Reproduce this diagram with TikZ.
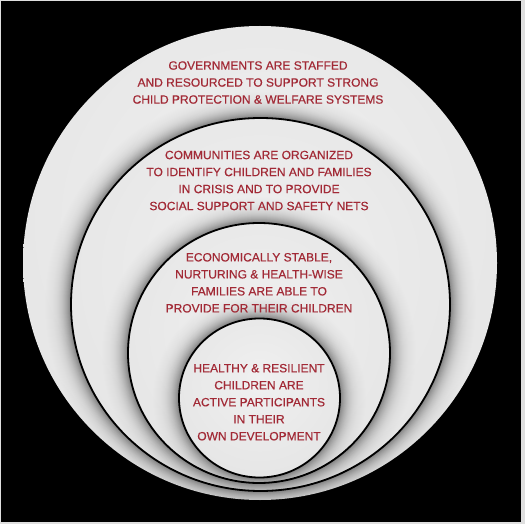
\documentclass[tikz,border=0pt]{standalone}
\usepackage{fontspec}
\setmainfont[FakeBold=0.6]{Liberation Sans}
\definecolor{txtred}{RGB}{162,42,54}
\definecolor{diskC}{RGB}{240,240,240}
\definecolor{diskM}{RGB}{230,230,230}
\definecolor{diskE}{RGB}{211,211,211}
\pgfdeclareradialshading{diskshade}{\pgfpoint{0bp}{6bp}}{color(0bp)=(diskC); color(28bp)=(diskM); color(50bp)=(diskE); color(75bp)=(diskE)}
\tikzset{
  txt/.style={font=\fontsize{12}{17}\selectfont, text=txtred, align=center, inner sep=0pt},
  disk/.style={shading=diskshade},
  ring/.style={draw=black, line width=1.8pt}
}
\newcommand{\myshadow}[4]{% cx, cy, rx, ry
  \foreach \i in {30,...,1}{
    \pgfmathsetmacro{\rxx}{#3+\i}
    \pgfmathsetmacro{\ryy}{#4+\i}
    \pgfmathsetmacro{\op}{0.072*exp(-(\i-1)/7)}
    \fill[black, opacity=\op] (#1,#2) ellipse [x radius=\rxx, y radius=\ryy];
  }
}
\begin{document}
\begin{tikzpicture}[x=1pt,y=-1pt]
\useasboundingbox (0,0) rectangle (525,524);
\fill[gray!25] (0,0) rectangle (525,524);
\fill[black] (1,1) rectangle (521,521.5);
% outer disk
\shade[disk] (260,263) circle [radius=237];
% circle 2
\begin{scope}
  \clip (260,263) circle [radius=237];
  \myshadow{260.5}{304.5}{189.5}{186.5}
\end{scope}
\shade[disk] (260.5,304.5) ellipse [x radius=189.5, y radius=186.5];
\draw[ring] (260.5,304.5) ellipse [x radius=189.5, y radius=186.5];
% circle 3
\begin{scope}
  \clip (260.5,304.5) ellipse [x radius=189.5, y radius=186.5];
  \myshadow{259}{353}{131}{130}
\end{scope}
\shade[disk] (259,353) ellipse [x radius=131, y radius=130];
\draw[ring] (259,353) ellipse [x radius=131, y radius=130];
% circle 4
\begin{scope}
  \clip (259,353) ellipse [x radius=131, y radius=130];
  \myshadow{259.5}{398}{80.5}{79.5}
\end{scope}
\shade[disk] (259.5,398) ellipse [x radius=80.5, y radius=79.5];
\draw[ring] (259.5,398) ellipse [x radius=80.5, y radius=79.5];
% texts
\node[txt] (gov) at (258,82.5) {GOVERNMENTS ARE STAFFED\\AND RESOURCED TO SUPPORT STRONG\\CHILD PROTECTION \& WELFARE SYSTEMS};
\node[txt] (com) at (259,180.5) {COMMUNITIES ARE ORGANIZED\\TO IDENTIFY CHILDREN AND FAMILIES\\IN CRISIS AND TO PROVIDE\\SOCIAL SUPPORT AND SAFETY NETS};
\node[txt] (fam) at (259,282.8) {ECONOMICALLY STABLE,\\NURTURING \& HEALTH-WISE\\FAMILIES ARE ABLE TO\\PROVIDE FOR THEIR CHILDREN};
\node[txt] (chi) at (259,402.2) {HEALTHY \& RESILIENT\\CHILDREN ARE\\ACTIVE PARTICIPANTS\\IN THEIR\\OWN DEVELOPMENT};
\end{tikzpicture}
\end{document}
